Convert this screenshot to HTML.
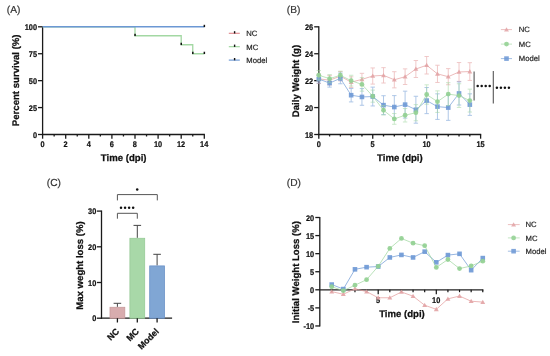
<!DOCTYPE html>
<html><head><meta charset="utf-8"><style>
html,body{margin:0;padding:0;background:#fff;}
body{width:550px;height:356px;overflow:hidden;}
svg{display:block;font-family:"Liberation Sans", sans-serif;will-change:transform;text-rendering:geometricPrecision;}
</style></head><body>
<svg width="550" height="356" viewBox="0 0 550 356">
<rect width="550" height="356" fill="#fff"/>
<text x="6.80" y="13.20" font-size="10.2" font-weight="normal" text-anchor="start" fill="#333" stroke="#333" stroke-width="0.18" >(A)</text>
<text x="286.80" y="13.20" font-size="10.2" font-weight="normal" text-anchor="start" fill="#333" stroke="#333" stroke-width="0.18" >(B)</text>
<text x="46.80" y="185.80" font-size="10.2" font-weight="normal" text-anchor="start" fill="#333" stroke="#333" stroke-width="0.18" >(C)</text>
<text x="286.80" y="185.80" font-size="10.2" font-weight="normal" text-anchor="start" fill="#333" stroke="#333" stroke-width="0.18" >(D)</text>
<line x1="42.60" y1="26.20" x2="42.60" y2="135.10" stroke="#1a1a1a" stroke-width="1.3" />
<line x1="42.00" y1="134.50" x2="204.90" y2="134.50" stroke="#1a1a1a" stroke-width="1.3" />
<line x1="38.00" y1="134.50" x2="42.60" y2="134.50" stroke="#1a1a1a" stroke-width="1.3" />
<text transform="translate(37.00,137.70) scale(0.9,1)" font-size="8.2" font-weight="bold" text-anchor="end" fill="#111" stroke="#111" stroke-width="0.2">0</text>
<line x1="38.00" y1="107.58" x2="42.60" y2="107.58" stroke="#1a1a1a" stroke-width="1.3" />
<text transform="translate(37.00,110.78) scale(0.9,1)" font-size="8.2" font-weight="bold" text-anchor="end" fill="#111" stroke="#111" stroke-width="0.2">25</text>
<line x1="38.00" y1="80.65" x2="42.60" y2="80.65" stroke="#1a1a1a" stroke-width="1.3" />
<text transform="translate(37.00,83.85) scale(0.9,1)" font-size="8.2" font-weight="bold" text-anchor="end" fill="#111" stroke="#111" stroke-width="0.2">50</text>
<line x1="38.00" y1="53.73" x2="42.60" y2="53.73" stroke="#1a1a1a" stroke-width="1.3" />
<text transform="translate(37.00,56.93) scale(0.9,1)" font-size="8.2" font-weight="bold" text-anchor="end" fill="#111" stroke="#111" stroke-width="0.2">75</text>
<line x1="38.00" y1="26.80" x2="42.60" y2="26.80" stroke="#1a1a1a" stroke-width="1.3" />
<text transform="translate(37.00,30.00) scale(0.9,1)" font-size="8.2" font-weight="bold" text-anchor="end" fill="#111" stroke="#111" stroke-width="0.2">100</text>
<line x1="42.60" y1="134.50" x2="42.60" y2="138.70" stroke="#1a1a1a" stroke-width="1.3" />
<text transform="translate(42.50,147.40) scale(0.9,1)" font-size="8.2" font-weight="bold" text-anchor="middle" fill="#111" stroke="#111" stroke-width="0.2">0</text>
<line x1="54.15" y1="134.50" x2="54.15" y2="136.50" stroke="#1a1a1a" stroke-width="1.3" />
<line x1="65.70" y1="134.50" x2="65.70" y2="138.70" stroke="#1a1a1a" stroke-width="1.3" />
<text transform="translate(65.60,147.40) scale(0.9,1)" font-size="8.2" font-weight="bold" text-anchor="middle" fill="#111" stroke="#111" stroke-width="0.2">2</text>
<line x1="77.25" y1="134.50" x2="77.25" y2="136.50" stroke="#1a1a1a" stroke-width="1.3" />
<line x1="88.80" y1="134.50" x2="88.80" y2="138.70" stroke="#1a1a1a" stroke-width="1.3" />
<text transform="translate(88.70,147.40) scale(0.9,1)" font-size="8.2" font-weight="bold" text-anchor="middle" fill="#111" stroke="#111" stroke-width="0.2">4</text>
<line x1="100.35" y1="134.50" x2="100.35" y2="136.50" stroke="#1a1a1a" stroke-width="1.3" />
<line x1="111.90" y1="134.50" x2="111.90" y2="138.70" stroke="#1a1a1a" stroke-width="1.3" />
<text transform="translate(111.80,147.40) scale(0.9,1)" font-size="8.2" font-weight="bold" text-anchor="middle" fill="#111" stroke="#111" stroke-width="0.2">6</text>
<line x1="123.45" y1="134.50" x2="123.45" y2="136.50" stroke="#1a1a1a" stroke-width="1.3" />
<line x1="135.00" y1="134.50" x2="135.00" y2="138.70" stroke="#1a1a1a" stroke-width="1.3" />
<text transform="translate(134.90,147.40) scale(0.9,1)" font-size="8.2" font-weight="bold" text-anchor="middle" fill="#111" stroke="#111" stroke-width="0.2">8</text>
<line x1="146.55" y1="134.50" x2="146.55" y2="136.50" stroke="#1a1a1a" stroke-width="1.3" />
<line x1="158.10" y1="134.50" x2="158.10" y2="138.70" stroke="#1a1a1a" stroke-width="1.3" />
<text transform="translate(158.00,147.40) scale(0.9,1)" font-size="8.2" font-weight="bold" text-anchor="middle" fill="#111" stroke="#111" stroke-width="0.2">10</text>
<line x1="169.65" y1="134.50" x2="169.65" y2="136.50" stroke="#1a1a1a" stroke-width="1.3" />
<line x1="181.20" y1="134.50" x2="181.20" y2="138.70" stroke="#1a1a1a" stroke-width="1.3" />
<text transform="translate(181.10,147.40) scale(0.9,1)" font-size="8.2" font-weight="bold" text-anchor="middle" fill="#111" stroke="#111" stroke-width="0.2">12</text>
<line x1="192.75" y1="134.50" x2="192.75" y2="136.50" stroke="#1a1a1a" stroke-width="1.3" />
<line x1="204.30" y1="134.50" x2="204.30" y2="138.70" stroke="#1a1a1a" stroke-width="1.3" />
<text transform="translate(204.20,147.40) scale(0.9,1)" font-size="8.2" font-weight="bold" text-anchor="middle" fill="#111" stroke="#111" stroke-width="0.2">14</text>
<text x="123.70" y="161.10" font-size="9.6" font-weight="bold" text-anchor="middle" fill="#111" stroke="#111" stroke-width="0.25" >Time (dpi)</text>
<text transform="translate(19.1,80.3) rotate(-90)" font-size="9.6" font-weight="bold" text-anchor="middle" fill="#111" stroke="#111" stroke-width="0.25">Percent survival (%)</text>
<polyline points="42.60,26.80 135.00,26.80 135.00,35.77 181.20,35.77 181.20,44.75 192.75,44.75 192.75,53.73 204.30,53.73" fill="none" stroke="#a3d8a3" stroke-width="1.3"/>
<line x1="42.60" y1="26.80" x2="204.30" y2="26.80" stroke="#6c98d4" stroke-width="1.4" />
<rect x="134.30" y="33.77" width="1.5" height="2.3" fill="#111"/>
<rect x="180.50" y="42.75" width="1.5" height="2.3" fill="#111"/>
<rect x="192.05" y="51.73" width="1.5" height="2.3" fill="#111"/>
<rect x="203.60" y="51.73" width="1.5" height="2.3" fill="#111"/>
<rect x="203.60" y="24.80" width="1.5" height="2.3" fill="#111"/>
<line x1="228.80" y1="33.30" x2="239.80" y2="33.30" stroke="#e08a8e" stroke-width="1.15" />
<rect x="233.90" y="31.20" width="1.4" height="2.3" fill="#111"/>
<text x="246.30" y="36.20" font-size="7.7" font-weight="normal" text-anchor="start" fill="#222" stroke="#222" stroke-width="0.18" >NC</text>
<line x1="228.80" y1="46.70" x2="239.80" y2="46.70" stroke="#9dd69d" stroke-width="1.15" />
<rect x="233.90" y="44.60" width="1.4" height="2.3" fill="#111"/>
<text x="246.30" y="49.60" font-size="7.7" font-weight="normal" text-anchor="start" fill="#222" stroke="#222" stroke-width="0.18" >MC</text>
<line x1="228.80" y1="60.10" x2="239.80" y2="60.10" stroke="#6c98d4" stroke-width="1.15" />
<rect x="233.90" y="58.00" width="1.4" height="2.3" fill="#111"/>
<text x="246.30" y="63.00" font-size="7.7" font-weight="normal" text-anchor="start" fill="#222" stroke="#222" stroke-width="0.18" >Model</text>
<line x1="318.80" y1="26.22" x2="318.80" y2="135.10" stroke="#1a1a1a" stroke-width="1.3" />
<line x1="318.20" y1="134.50" x2="481.21" y2="134.50" stroke="#1a1a1a" stroke-width="1.3" />
<line x1="314.20" y1="134.50" x2="318.80" y2="134.50" stroke="#1a1a1a" stroke-width="1.3" />
<text transform="translate(313.20,137.70) scale(0.9,1)" font-size="8.2" font-weight="bold" text-anchor="end" fill="#111" stroke="#111" stroke-width="0.2">18</text>
<line x1="314.20" y1="107.58" x2="318.80" y2="107.58" stroke="#1a1a1a" stroke-width="1.3" />
<text transform="translate(313.20,110.78) scale(0.9,1)" font-size="8.2" font-weight="bold" text-anchor="end" fill="#111" stroke="#111" stroke-width="0.2">20</text>
<line x1="314.20" y1="80.66" x2="318.80" y2="80.66" stroke="#1a1a1a" stroke-width="1.3" />
<text transform="translate(313.20,83.86) scale(0.9,1)" font-size="8.2" font-weight="bold" text-anchor="end" fill="#111" stroke="#111" stroke-width="0.2">22</text>
<line x1="314.20" y1="53.74" x2="318.80" y2="53.74" stroke="#1a1a1a" stroke-width="1.3" />
<text transform="translate(313.20,56.94) scale(0.9,1)" font-size="8.2" font-weight="bold" text-anchor="end" fill="#111" stroke="#111" stroke-width="0.2">24</text>
<line x1="314.20" y1="26.82" x2="318.80" y2="26.82" stroke="#1a1a1a" stroke-width="1.3" />
<text transform="translate(313.20,30.02) scale(0.9,1)" font-size="8.2" font-weight="bold" text-anchor="end" fill="#111" stroke="#111" stroke-width="0.2">26</text>
<line x1="318.80" y1="134.50" x2="318.80" y2="138.70" stroke="#1a1a1a" stroke-width="1.3" />
<text transform="translate(318.70,147.40) scale(0.9,1)" font-size="8.2" font-weight="bold" text-anchor="middle" fill="#111" stroke="#111" stroke-width="0.2">0</text>
<line x1="329.59" y1="134.50" x2="329.59" y2="136.50" stroke="#1a1a1a" stroke-width="1.3" />
<line x1="340.37" y1="134.50" x2="340.37" y2="136.50" stroke="#1a1a1a" stroke-width="1.3" />
<line x1="351.16" y1="134.50" x2="351.16" y2="136.50" stroke="#1a1a1a" stroke-width="1.3" />
<line x1="361.95" y1="134.50" x2="361.95" y2="136.50" stroke="#1a1a1a" stroke-width="1.3" />
<line x1="372.74" y1="134.50" x2="372.74" y2="138.70" stroke="#1a1a1a" stroke-width="1.3" />
<text transform="translate(372.63,147.40) scale(0.9,1)" font-size="8.2" font-weight="bold" text-anchor="middle" fill="#111" stroke="#111" stroke-width="0.2">5</text>
<line x1="383.52" y1="134.50" x2="383.52" y2="136.50" stroke="#1a1a1a" stroke-width="1.3" />
<line x1="394.31" y1="134.50" x2="394.31" y2="136.50" stroke="#1a1a1a" stroke-width="1.3" />
<line x1="405.10" y1="134.50" x2="405.10" y2="136.50" stroke="#1a1a1a" stroke-width="1.3" />
<line x1="415.88" y1="134.50" x2="415.88" y2="136.50" stroke="#1a1a1a" stroke-width="1.3" />
<line x1="426.67" y1="134.50" x2="426.67" y2="138.70" stroke="#1a1a1a" stroke-width="1.3" />
<text transform="translate(426.57,147.40) scale(0.9,1)" font-size="8.2" font-weight="bold" text-anchor="middle" fill="#111" stroke="#111" stroke-width="0.2">10</text>
<line x1="437.46" y1="134.50" x2="437.46" y2="136.50" stroke="#1a1a1a" stroke-width="1.3" />
<line x1="448.24" y1="134.50" x2="448.24" y2="136.50" stroke="#1a1a1a" stroke-width="1.3" />
<line x1="459.03" y1="134.50" x2="459.03" y2="136.50" stroke="#1a1a1a" stroke-width="1.3" />
<line x1="469.82" y1="134.50" x2="469.82" y2="136.50" stroke="#1a1a1a" stroke-width="1.3" />
<line x1="480.61" y1="134.50" x2="480.61" y2="138.70" stroke="#1a1a1a" stroke-width="1.3" />
<text transform="translate(480.50,147.40) scale(0.9,1)" font-size="8.2" font-weight="bold" text-anchor="middle" fill="#111" stroke="#111" stroke-width="0.2">15</text>
<text x="399.90" y="161.20" font-size="9.6" font-weight="bold" text-anchor="middle" fill="#111" stroke="#111" stroke-width="0.25" >Time (dpi)</text>
<text transform="translate(299.2,81.0) rotate(-90)" font-size="9.6" font-weight="bold" text-anchor="middle" fill="#111" stroke="#111" stroke-width="0.25">Daily Weight (g)</text>
<g opacity="0.6">
<line x1="318.80" y1="74.13" x2="318.80" y2="83.55" stroke="#e39a9a" stroke-width="0.9" />
<line x1="316.60" y1="74.13" x2="321.00" y2="74.13" stroke="#e39a9a" stroke-width="0.9" />
<line x1="316.60" y1="83.55" x2="321.00" y2="83.55" stroke="#e39a9a" stroke-width="0.9" />
<line x1="329.59" y1="75.47" x2="329.59" y2="84.90" stroke="#e39a9a" stroke-width="0.9" />
<line x1="327.39" y1="75.47" x2="331.79" y2="75.47" stroke="#e39a9a" stroke-width="0.9" />
<line x1="327.39" y1="84.90" x2="331.79" y2="84.90" stroke="#e39a9a" stroke-width="0.9" />
<line x1="340.37" y1="71.44" x2="340.37" y2="80.86" stroke="#e39a9a" stroke-width="0.9" />
<line x1="338.17" y1="71.44" x2="342.57" y2="71.44" stroke="#e39a9a" stroke-width="0.9" />
<line x1="338.17" y1="80.86" x2="342.57" y2="80.86" stroke="#e39a9a" stroke-width="0.9" />
<line x1="351.16" y1="76.82" x2="351.16" y2="87.59" stroke="#e39a9a" stroke-width="0.9" />
<line x1="348.96" y1="76.82" x2="353.36" y2="76.82" stroke="#e39a9a" stroke-width="0.9" />
<line x1="348.96" y1="87.59" x2="353.36" y2="87.59" stroke="#e39a9a" stroke-width="0.9" />
<line x1="361.95" y1="73.32" x2="361.95" y2="85.43" stroke="#e39a9a" stroke-width="0.9" />
<line x1="359.75" y1="73.32" x2="364.15" y2="73.32" stroke="#e39a9a" stroke-width="0.9" />
<line x1="359.75" y1="85.43" x2="364.15" y2="85.43" stroke="#e39a9a" stroke-width="0.9" />
<line x1="372.74" y1="67.94" x2="372.74" y2="84.09" stroke="#e39a9a" stroke-width="0.9" />
<line x1="370.54" y1="67.94" x2="374.94" y2="67.94" stroke="#e39a9a" stroke-width="0.9" />
<line x1="370.54" y1="84.09" x2="374.94" y2="84.09" stroke="#e39a9a" stroke-width="0.9" />
<line x1="383.52" y1="67.67" x2="383.52" y2="83.01" stroke="#e39a9a" stroke-width="0.9" />
<line x1="381.32" y1="67.67" x2="385.72" y2="67.67" stroke="#e39a9a" stroke-width="0.9" />
<line x1="381.32" y1="83.01" x2="385.72" y2="83.01" stroke="#e39a9a" stroke-width="0.9" />
<line x1="394.31" y1="71.71" x2="394.31" y2="87.86" stroke="#e39a9a" stroke-width="0.9" />
<line x1="392.11" y1="71.71" x2="396.51" y2="71.71" stroke="#e39a9a" stroke-width="0.9" />
<line x1="392.11" y1="87.86" x2="396.51" y2="87.86" stroke="#e39a9a" stroke-width="0.9" />
<line x1="405.10" y1="68.88" x2="405.10" y2="84.49" stroke="#e39a9a" stroke-width="0.9" />
<line x1="402.90" y1="68.88" x2="407.30" y2="68.88" stroke="#e39a9a" stroke-width="0.9" />
<line x1="402.90" y1="84.49" x2="407.30" y2="84.49" stroke="#e39a9a" stroke-width="0.9" />
<line x1="415.88" y1="60.53" x2="415.88" y2="77.49" stroke="#e39a9a" stroke-width="0.9" />
<line x1="413.68" y1="60.53" x2="418.08" y2="60.53" stroke="#e39a9a" stroke-width="0.9" />
<line x1="413.68" y1="77.49" x2="418.08" y2="77.49" stroke="#e39a9a" stroke-width="0.9" />
<line x1="426.67" y1="56.50" x2="426.67" y2="73.99" stroke="#e39a9a" stroke-width="0.9" />
<line x1="424.47" y1="56.50" x2="428.87" y2="56.50" stroke="#e39a9a" stroke-width="0.9" />
<line x1="424.47" y1="73.99" x2="428.87" y2="73.99" stroke="#e39a9a" stroke-width="0.9" />
<line x1="437.46" y1="65.24" x2="437.46" y2="82.47" stroke="#e39a9a" stroke-width="0.9" />
<line x1="435.26" y1="65.24" x2="439.66" y2="65.24" stroke="#e39a9a" stroke-width="0.9" />
<line x1="435.26" y1="82.47" x2="439.66" y2="82.47" stroke="#e39a9a" stroke-width="0.9" />
<line x1="448.24" y1="68.61" x2="448.24" y2="84.76" stroke="#e39a9a" stroke-width="0.9" />
<line x1="446.04" y1="68.61" x2="450.44" y2="68.61" stroke="#e39a9a" stroke-width="0.9" />
<line x1="446.04" y1="84.76" x2="450.44" y2="84.76" stroke="#e39a9a" stroke-width="0.9" />
<line x1="459.03" y1="62.55" x2="459.03" y2="81.40" stroke="#e39a9a" stroke-width="0.9" />
<line x1="456.83" y1="62.55" x2="461.23" y2="62.55" stroke="#e39a9a" stroke-width="0.9" />
<line x1="456.83" y1="81.40" x2="461.23" y2="81.40" stroke="#e39a9a" stroke-width="0.9" />
<line x1="469.82" y1="62.69" x2="469.82" y2="80.45" stroke="#e39a9a" stroke-width="0.9" />
<line x1="467.62" y1="62.69" x2="472.02" y2="62.69" stroke="#e39a9a" stroke-width="0.9" />
<line x1="467.62" y1="80.45" x2="472.02" y2="80.45" stroke="#e39a9a" stroke-width="0.9" />
</g>
<polyline points="318.80,78.84 329.59,80.19 340.37,76.15 351.16,82.20 361.95,79.38 372.74,76.01 383.52,75.34 394.31,79.78 405.10,76.69 415.88,69.01 426.67,65.24 437.46,73.86 448.24,76.69 459.03,71.97 469.82,71.57" fill="none" stroke="#e39a9a" stroke-width="0.9" opacity="0.75"/>
<g opacity="0.9">
<polygon points="318.80,76.39 316.35,80.68 321.25,80.68" fill="#e3a5a7"/>
<polygon points="329.59,77.74 327.14,82.02 332.04,82.02" fill="#e3a5a7"/>
<polygon points="340.37,73.70 337.92,77.98 342.82,77.98" fill="#e3a5a7"/>
<polygon points="351.16,79.75 348.71,84.04 353.61,84.04" fill="#e3a5a7"/>
<polygon points="361.95,76.93 359.50,81.22 364.40,81.22" fill="#e3a5a7"/>
<polygon points="372.74,73.56 370.29,77.85 375.19,77.85" fill="#e3a5a7"/>
<polygon points="383.52,72.89 381.07,77.18 385.97,77.18" fill="#e3a5a7"/>
<polygon points="394.31,77.33 391.86,81.62 396.76,81.62" fill="#e3a5a7"/>
<polygon points="405.10,74.24 402.65,78.52 407.55,78.52" fill="#e3a5a7"/>
<polygon points="415.88,66.56 413.43,70.85 418.33,70.85" fill="#e3a5a7"/>
<polygon points="426.67,62.79 424.22,67.08 429.12,67.08" fill="#e3a5a7"/>
<polygon points="437.46,71.41 435.01,75.70 439.91,75.70" fill="#e3a5a7"/>
<polygon points="448.24,74.24 445.79,78.52 450.69,78.52" fill="#e3a5a7"/>
<polygon points="459.03,69.52 456.58,73.81 461.48,73.81" fill="#e3a5a7"/>
<polygon points="469.82,69.12 467.37,73.41 472.27,73.41" fill="#e3a5a7"/>
</g>
<g opacity="0.6">
<line x1="318.80" y1="75.00" x2="318.80" y2="83.08" stroke="#6c98d4" stroke-width="0.9" />
<line x1="316.60" y1="75.00" x2="321.00" y2="75.00" stroke="#6c98d4" stroke-width="0.9" />
<line x1="316.60" y1="83.08" x2="321.00" y2="83.08" stroke="#6c98d4" stroke-width="0.9" />
<line x1="329.59" y1="79.04" x2="329.59" y2="87.12" stroke="#6c98d4" stroke-width="0.9" />
<line x1="327.39" y1="79.04" x2="331.79" y2="79.04" stroke="#6c98d4" stroke-width="0.9" />
<line x1="327.39" y1="87.12" x2="331.79" y2="87.12" stroke="#6c98d4" stroke-width="0.9" />
<line x1="340.37" y1="72.98" x2="340.37" y2="83.75" stroke="#6c98d4" stroke-width="0.9" />
<line x1="338.17" y1="72.98" x2="342.57" y2="72.98" stroke="#6c98d4" stroke-width="0.9" />
<line x1="338.17" y1="83.75" x2="342.57" y2="83.75" stroke="#6c98d4" stroke-width="0.9" />
<line x1="351.16" y1="88.46" x2="351.16" y2="101.92" stroke="#6c98d4" stroke-width="0.9" />
<line x1="348.96" y1="88.46" x2="353.36" y2="88.46" stroke="#6c98d4" stroke-width="0.9" />
<line x1="348.96" y1="101.92" x2="353.36" y2="101.92" stroke="#6c98d4" stroke-width="0.9" />
<line x1="361.95" y1="88.60" x2="361.95" y2="105.29" stroke="#6c98d4" stroke-width="0.9" />
<line x1="359.75" y1="88.60" x2="364.15" y2="88.60" stroke="#6c98d4" stroke-width="0.9" />
<line x1="359.75" y1="105.29" x2="364.15" y2="105.29" stroke="#6c98d4" stroke-width="0.9" />
<line x1="372.74" y1="87.12" x2="372.74" y2="105.96" stroke="#6c98d4" stroke-width="0.9" />
<line x1="370.54" y1="87.12" x2="374.94" y2="87.12" stroke="#6c98d4" stroke-width="0.9" />
<line x1="370.54" y1="105.96" x2="374.94" y2="105.96" stroke="#6c98d4" stroke-width="0.9" />
<line x1="383.52" y1="95.73" x2="383.52" y2="114.58" stroke="#6c98d4" stroke-width="0.9" />
<line x1="381.32" y1="95.73" x2="385.72" y2="95.73" stroke="#6c98d4" stroke-width="0.9" />
<line x1="381.32" y1="114.58" x2="385.72" y2="114.58" stroke="#6c98d4" stroke-width="0.9" />
<line x1="394.31" y1="95.60" x2="394.31" y2="118.48" stroke="#6c98d4" stroke-width="0.9" />
<line x1="392.11" y1="95.60" x2="396.51" y2="95.60" stroke="#6c98d4" stroke-width="0.9" />
<line x1="392.11" y1="118.48" x2="396.51" y2="118.48" stroke="#6c98d4" stroke-width="0.9" />
<line x1="405.10" y1="91.16" x2="405.10" y2="118.08" stroke="#6c98d4" stroke-width="0.9" />
<line x1="402.90" y1="91.16" x2="407.30" y2="91.16" stroke="#6c98d4" stroke-width="0.9" />
<line x1="402.90" y1="118.08" x2="407.30" y2="118.08" stroke="#6c98d4" stroke-width="0.9" />
<line x1="415.88" y1="96.27" x2="415.88" y2="123.19" stroke="#6c98d4" stroke-width="0.9" />
<line x1="413.68" y1="96.27" x2="418.08" y2="96.27" stroke="#6c98d4" stroke-width="0.9" />
<line x1="413.68" y1="123.19" x2="418.08" y2="123.19" stroke="#6c98d4" stroke-width="0.9" />
<line x1="426.67" y1="87.52" x2="426.67" y2="113.63" stroke="#6c98d4" stroke-width="0.9" />
<line x1="424.47" y1="87.52" x2="428.87" y2="87.52" stroke="#6c98d4" stroke-width="0.9" />
<line x1="424.47" y1="113.63" x2="428.87" y2="113.63" stroke="#6c98d4" stroke-width="0.9" />
<line x1="437.46" y1="93.85" x2="437.46" y2="119.42" stroke="#6c98d4" stroke-width="0.9" />
<line x1="435.26" y1="93.85" x2="439.66" y2="93.85" stroke="#6c98d4" stroke-width="0.9" />
<line x1="435.26" y1="119.42" x2="439.66" y2="119.42" stroke="#6c98d4" stroke-width="0.9" />
<line x1="448.24" y1="94.79" x2="448.24" y2="120.36" stroke="#6c98d4" stroke-width="0.9" />
<line x1="446.04" y1="94.79" x2="450.44" y2="94.79" stroke="#6c98d4" stroke-width="0.9" />
<line x1="446.04" y1="120.36" x2="450.44" y2="120.36" stroke="#6c98d4" stroke-width="0.9" />
<line x1="459.03" y1="81.87" x2="459.03" y2="105.02" stroke="#6c98d4" stroke-width="0.9" />
<line x1="456.83" y1="81.87" x2="461.23" y2="81.87" stroke="#6c98d4" stroke-width="0.9" />
<line x1="456.83" y1="105.02" x2="461.23" y2="105.02" stroke="#6c98d4" stroke-width="0.9" />
<line x1="469.82" y1="93.85" x2="469.82" y2="115.38" stroke="#6c98d4" stroke-width="0.9" />
<line x1="467.62" y1="93.85" x2="472.02" y2="93.85" stroke="#6c98d4" stroke-width="0.9" />
<line x1="467.62" y1="115.38" x2="472.02" y2="115.38" stroke="#6c98d4" stroke-width="0.9" />
</g>
<polyline points="318.80,79.04 329.59,83.08 340.37,78.37 351.16,95.19 361.95,96.94 372.74,96.54 383.52,105.15 394.31,107.04 405.10,104.62 415.88,109.73 426.67,100.58 437.46,106.63 448.24,107.58 459.03,93.44 469.82,104.62" fill="none" stroke="#6c98d4" stroke-width="0.9" opacity="0.75"/>
<g opacity="0.9">
<rect x="316.50" y="76.74" width="4.6" height="4.6" fill="#6f9ad6"/>
<rect x="327.29" y="80.78" width="4.6" height="4.6" fill="#6f9ad6"/>
<rect x="338.07" y="76.07" width="4.6" height="4.6" fill="#6f9ad6"/>
<rect x="348.86" y="92.89" width="4.6" height="4.6" fill="#6f9ad6"/>
<rect x="359.65" y="94.64" width="4.6" height="4.6" fill="#6f9ad6"/>
<rect x="370.44" y="94.24" width="4.6" height="4.6" fill="#6f9ad6"/>
<rect x="381.22" y="102.85" width="4.6" height="4.6" fill="#6f9ad6"/>
<rect x="392.01" y="104.74" width="4.6" height="4.6" fill="#6f9ad6"/>
<rect x="402.80" y="102.32" width="4.6" height="4.6" fill="#6f9ad6"/>
<rect x="413.58" y="107.43" width="4.6" height="4.6" fill="#6f9ad6"/>
<rect x="424.37" y="98.28" width="4.6" height="4.6" fill="#6f9ad6"/>
<rect x="435.16" y="104.33" width="4.6" height="4.6" fill="#6f9ad6"/>
<rect x="445.94" y="105.28" width="4.6" height="4.6" fill="#6f9ad6"/>
<rect x="456.73" y="91.14" width="4.6" height="4.6" fill="#6f9ad6"/>
<rect x="467.52" y="102.32" width="4.6" height="4.6" fill="#6f9ad6"/>
</g>
<g opacity="0.6">
<line x1="318.80" y1="70.56" x2="318.80" y2="79.98" stroke="#9fd69f" stroke-width="0.9" />
<line x1="316.60" y1="70.56" x2="321.00" y2="70.56" stroke="#9fd69f" stroke-width="0.9" />
<line x1="316.60" y1="79.98" x2="321.00" y2="79.98" stroke="#9fd69f" stroke-width="0.9" />
<line x1="329.59" y1="74.60" x2="329.59" y2="82.68" stroke="#9fd69f" stroke-width="0.9" />
<line x1="327.39" y1="74.60" x2="331.79" y2="74.60" stroke="#9fd69f" stroke-width="0.9" />
<line x1="327.39" y1="82.68" x2="331.79" y2="82.68" stroke="#9fd69f" stroke-width="0.9" />
<line x1="340.37" y1="71.23" x2="340.37" y2="79.31" stroke="#9fd69f" stroke-width="0.9" />
<line x1="338.17" y1="71.23" x2="342.57" y2="71.23" stroke="#9fd69f" stroke-width="0.9" />
<line x1="338.17" y1="79.31" x2="342.57" y2="79.31" stroke="#9fd69f" stroke-width="0.9" />
<line x1="351.16" y1="75.27" x2="351.16" y2="86.04" stroke="#9fd69f" stroke-width="0.9" />
<line x1="348.96" y1="75.27" x2="353.36" y2="75.27" stroke="#9fd69f" stroke-width="0.9" />
<line x1="348.96" y1="86.04" x2="353.36" y2="86.04" stroke="#9fd69f" stroke-width="0.9" />
<line x1="361.95" y1="77.69" x2="361.95" y2="91.16" stroke="#9fd69f" stroke-width="0.9" />
<line x1="359.75" y1="77.69" x2="364.15" y2="77.69" stroke="#9fd69f" stroke-width="0.9" />
<line x1="359.75" y1="91.16" x2="364.15" y2="91.16" stroke="#9fd69f" stroke-width="0.9" />
<line x1="372.74" y1="90.08" x2="372.74" y2="102.19" stroke="#9fd69f" stroke-width="0.9" />
<line x1="370.54" y1="90.08" x2="374.94" y2="90.08" stroke="#9fd69f" stroke-width="0.9" />
<line x1="370.54" y1="102.19" x2="374.94" y2="102.19" stroke="#9fd69f" stroke-width="0.9" />
<line x1="383.52" y1="105.56" x2="383.52" y2="114.98" stroke="#9fd69f" stroke-width="0.9" />
<line x1="381.32" y1="105.56" x2="385.72" y2="105.56" stroke="#9fd69f" stroke-width="0.9" />
<line x1="381.32" y1="114.98" x2="385.72" y2="114.98" stroke="#9fd69f" stroke-width="0.9" />
<line x1="394.31" y1="113.50" x2="394.31" y2="124.27" stroke="#9fd69f" stroke-width="0.9" />
<line x1="392.11" y1="113.50" x2="396.51" y2="113.50" stroke="#9fd69f" stroke-width="0.9" />
<line x1="392.11" y1="124.27" x2="396.51" y2="124.27" stroke="#9fd69f" stroke-width="0.9" />
<line x1="405.10" y1="108.52" x2="405.10" y2="121.98" stroke="#9fd69f" stroke-width="0.9" />
<line x1="402.90" y1="108.52" x2="407.30" y2="108.52" stroke="#9fd69f" stroke-width="0.9" />
<line x1="402.90" y1="121.98" x2="407.30" y2="121.98" stroke="#9fd69f" stroke-width="0.9" />
<line x1="415.88" y1="104.61" x2="415.88" y2="120.77" stroke="#9fd69f" stroke-width="0.9" />
<line x1="413.68" y1="104.61" x2="418.08" y2="104.61" stroke="#9fd69f" stroke-width="0.9" />
<line x1="413.68" y1="120.77" x2="418.08" y2="120.77" stroke="#9fd69f" stroke-width="0.9" />
<line x1="426.67" y1="84.83" x2="426.67" y2="104.21" stroke="#9fd69f" stroke-width="0.9" />
<line x1="424.47" y1="84.83" x2="428.87" y2="84.83" stroke="#9fd69f" stroke-width="0.9" />
<line x1="424.47" y1="104.21" x2="428.87" y2="104.21" stroke="#9fd69f" stroke-width="0.9" />
<line x1="437.46" y1="90.89" x2="437.46" y2="112.42" stroke="#9fd69f" stroke-width="0.9" />
<line x1="435.26" y1="90.89" x2="439.66" y2="90.89" stroke="#9fd69f" stroke-width="0.9" />
<line x1="435.26" y1="112.42" x2="439.66" y2="112.42" stroke="#9fd69f" stroke-width="0.9" />
<line x1="448.24" y1="82.68" x2="448.24" y2="105.56" stroke="#9fd69f" stroke-width="0.9" />
<line x1="446.04" y1="82.68" x2="450.44" y2="82.68" stroke="#9fd69f" stroke-width="0.9" />
<line x1="446.04" y1="105.56" x2="450.44" y2="105.56" stroke="#9fd69f" stroke-width="0.9" />
<line x1="459.03" y1="83.75" x2="459.03" y2="107.44" stroke="#9fd69f" stroke-width="0.9" />
<line x1="456.83" y1="83.75" x2="461.23" y2="83.75" stroke="#9fd69f" stroke-width="0.9" />
<line x1="456.83" y1="107.44" x2="461.23" y2="107.44" stroke="#9fd69f" stroke-width="0.9" />
<line x1="469.82" y1="89.14" x2="469.82" y2="112.02" stroke="#9fd69f" stroke-width="0.9" />
<line x1="467.62" y1="89.14" x2="472.02" y2="89.14" stroke="#9fd69f" stroke-width="0.9" />
<line x1="467.62" y1="112.02" x2="472.02" y2="112.02" stroke="#9fd69f" stroke-width="0.9" />
</g>
<polyline points="318.80,75.27 329.59,78.64 340.37,75.27 351.16,80.66 361.95,84.43 372.74,96.14 383.52,110.27 394.31,118.88 405.10,115.25 415.88,112.69 426.67,94.52 437.46,101.65 448.24,94.12 459.03,95.60 469.82,100.58" fill="none" stroke="#9fd69f" stroke-width="0.9" opacity="0.75"/>
<g opacity="0.9">
<circle cx="318.80" cy="75.27" r="2.4" fill="#93d193"/>
<circle cx="329.59" cy="78.64" r="2.4" fill="#93d193"/>
<circle cx="340.37" cy="75.27" r="2.4" fill="#93d193"/>
<circle cx="351.16" cy="80.66" r="2.4" fill="#93d193"/>
<circle cx="361.95" cy="84.43" r="2.4" fill="#93d193"/>
<circle cx="372.74" cy="96.14" r="2.4" fill="#93d193"/>
<circle cx="383.52" cy="110.27" r="2.4" fill="#93d193"/>
<circle cx="394.31" cy="118.88" r="2.4" fill="#93d193"/>
<circle cx="405.10" cy="115.25" r="2.4" fill="#93d193"/>
<circle cx="415.88" cy="112.69" r="2.4" fill="#93d193"/>
<circle cx="426.67" cy="94.52" r="2.4" fill="#93d193"/>
<circle cx="437.46" cy="101.65" r="2.4" fill="#93d193"/>
<circle cx="448.24" cy="94.12" r="2.4" fill="#93d193"/>
<circle cx="459.03" cy="95.60" r="2.4" fill="#93d193"/>
<circle cx="469.82" cy="100.58" r="2.4" fill="#93d193"/>
</g>
<line x1="474.10" y1="71.60" x2="474.10" y2="100.60" stroke="#555" stroke-width="1.1" />
<line x1="493.30" y1="71.10" x2="493.30" y2="103.60" stroke="#555" stroke-width="1.1" />
<circle cx="477.70" cy="86.10" r="1.25" fill="#111"/>
<circle cx="481.70" cy="86.10" r="1.25" fill="#111"/>
<circle cx="485.70" cy="86.10" r="1.25" fill="#111"/>
<circle cx="489.70" cy="86.10" r="1.25" fill="#111"/>
<circle cx="496.90" cy="87.80" r="1.25" fill="#111"/>
<circle cx="500.90" cy="87.80" r="1.25" fill="#111"/>
<circle cx="504.90" cy="87.80" r="1.25" fill="#111"/>
<circle cx="508.90" cy="87.80" r="1.25" fill="#111"/>
<line x1="500.90" y1="29.60" x2="512.00" y2="29.60" stroke="#e39a9a" stroke-width="0.9" opacity="0.7"/>
<g opacity="0.88">
<polygon points="506.50,27.15 504.05,31.44 508.95,31.44" fill="#e3a5a7"/>
</g>
<text x="518.80" y="32.30" font-size="7.7" font-weight="normal" text-anchor="start" fill="#222" stroke="#222" stroke-width="0.18" >NC</text>
<line x1="500.90" y1="44.10" x2="512.00" y2="44.10" stroke="#9fd69f" stroke-width="0.9" opacity="0.7"/>
<g opacity="0.88">
<circle cx="506.50" cy="44.10" r="2.4" fill="#93d193"/>
</g>
<text x="518.80" y="46.80" font-size="7.7" font-weight="normal" text-anchor="start" fill="#222" stroke="#222" stroke-width="0.18" >MC</text>
<line x1="500.90" y1="58.60" x2="512.00" y2="58.60" stroke="#6c98d4" stroke-width="0.9" opacity="0.7"/>
<g opacity="0.88">
<rect x="504.20" y="56.30" width="4.6" height="4.6" fill="#6f9ad6"/>
</g>
<text x="518.80" y="61.30" font-size="7.7" font-weight="normal" text-anchor="start" fill="#222" stroke="#222" stroke-width="0.18" >Model</text>
<line x1="101.50" y1="210.50" x2="101.50" y2="318.80" stroke="#1a1a1a" stroke-width="1.3" />
<line x1="100.90" y1="318.20" x2="172.10" y2="318.20" stroke="#1a1a1a" stroke-width="1.3" />
<line x1="96.90" y1="318.20" x2="101.50" y2="318.20" stroke="#1a1a1a" stroke-width="1.3" />
<text transform="translate(96.30,321.40) scale(0.9,1)" font-size="8.2" font-weight="bold" text-anchor="end" fill="#111" stroke="#111" stroke-width="0.2">0</text>
<line x1="96.90" y1="282.50" x2="101.50" y2="282.50" stroke="#1a1a1a" stroke-width="1.3" />
<text transform="translate(96.30,285.70) scale(0.9,1)" font-size="8.2" font-weight="bold" text-anchor="end" fill="#111" stroke="#111" stroke-width="0.2">10</text>
<line x1="96.90" y1="246.80" x2="101.50" y2="246.80" stroke="#1a1a1a" stroke-width="1.3" />
<text transform="translate(96.30,250.00) scale(0.9,1)" font-size="8.2" font-weight="bold" text-anchor="end" fill="#111" stroke="#111" stroke-width="0.2">20</text>
<line x1="96.90" y1="211.10" x2="101.50" y2="211.10" stroke="#1a1a1a" stroke-width="1.3" />
<text transform="translate(96.30,214.30) scale(0.9,1)" font-size="8.2" font-weight="bold" text-anchor="end" fill="#111" stroke="#111" stroke-width="0.2">30</text>
<line x1="117.40" y1="306.88" x2="117.40" y2="303.31" stroke="#444" stroke-width="1.0" />
<line x1="113.60" y1="303.31" x2="121.20" y2="303.31" stroke="#444" stroke-width="1.0" />
<rect x="110.00" y="307.28" width="14.8" height="10.92" fill="#d8acae" stroke="#c79a9c" stroke-width="0.8"/>
<line x1="117.40" y1="318.20" x2="117.40" y2="322.50" stroke="#1a1a1a" stroke-width="1.3" />
<line x1="137.30" y1="237.88" x2="137.30" y2="225.38" stroke="#444" stroke-width="1.0" />
<line x1="133.50" y1="225.38" x2="141.10" y2="225.38" stroke="#444" stroke-width="1.0" />
<rect x="129.90" y="238.28" width="14.8" height="79.92" fill="#a8d8a8" stroke="#96ca96" stroke-width="0.8"/>
<line x1="137.30" y1="318.20" x2="137.30" y2="322.50" stroke="#1a1a1a" stroke-width="1.3" />
<line x1="157.10" y1="265.51" x2="157.10" y2="254.30" stroke="#444" stroke-width="1.0" />
<line x1="153.30" y1="254.30" x2="160.90" y2="254.30" stroke="#444" stroke-width="1.0" />
<rect x="149.70" y="265.91" width="14.8" height="52.29" fill="#80a6d4" stroke="#6b93c8" stroke-width="0.8"/>
<line x1="157.10" y1="318.20" x2="157.10" y2="322.50" stroke="#1a1a1a" stroke-width="1.3" />
<text transform="translate(119.70,332.00) rotate(-45)" font-size="8.8" stroke="#111" stroke-width="0.25" font-weight="bold" text-anchor="end" fill="#111">NC</text>
<text transform="translate(139.60,332.00) rotate(-45)" font-size="8.8" stroke="#111" stroke-width="0.25" font-weight="bold" text-anchor="end" fill="#111">MC</text>
<text transform="translate(159.40,332.00) rotate(-45)" font-size="8.8" stroke="#111" stroke-width="0.25" font-weight="bold" text-anchor="end" fill="#111">Model</text>
<text transform="translate(83.0,265.5) rotate(-90)" font-size="9.6" font-weight="bold" text-anchor="middle" fill="#111" stroke="#111" stroke-width="0.25">Max weght loss (%)</text>
<polyline points="117.4,200.4 117.4,194.6 157.3,194.6 157.3,200.4" fill="none" stroke="#555" stroke-width="1.0"/>
<polyline points="117.4,218.7 117.4,213.3 137.3,213.3 137.3,218.7" fill="none" stroke="#555" stroke-width="1.0"/>
<circle cx="137.20" cy="189.40" r="1.25" fill="#111"/>
<circle cx="121.00" cy="207.80" r="1.25" fill="#111"/>
<circle cx="125.05" cy="207.80" r="1.25" fill="#111"/>
<circle cx="129.10" cy="207.80" r="1.25" fill="#111"/>
<circle cx="133.15" cy="207.80" r="1.25" fill="#111"/>
<line x1="319.80" y1="216.90" x2="319.80" y2="326.55" stroke="#1a1a1a" stroke-width="1.3" />
<line x1="315.30" y1="217.50" x2="319.80" y2="217.50" stroke="#1a1a1a" stroke-width="1.3" />
<text transform="translate(314.20,220.70) scale(0.9,1)" font-size="8.2" font-weight="bold" text-anchor="end" fill="#111" stroke="#111" stroke-width="0.2">20</text>
<line x1="315.30" y1="235.58" x2="319.80" y2="235.58" stroke="#1a1a1a" stroke-width="1.3" />
<text transform="translate(314.20,238.78) scale(0.9,1)" font-size="8.2" font-weight="bold" text-anchor="end" fill="#111" stroke="#111" stroke-width="0.2">15</text>
<line x1="315.30" y1="253.65" x2="319.80" y2="253.65" stroke="#1a1a1a" stroke-width="1.3" />
<text transform="translate(314.20,256.85) scale(0.9,1)" font-size="8.2" font-weight="bold" text-anchor="end" fill="#111" stroke="#111" stroke-width="0.2">10</text>
<line x1="315.30" y1="271.73" x2="319.80" y2="271.73" stroke="#1a1a1a" stroke-width="1.3" />
<text transform="translate(314.20,274.93) scale(0.9,1)" font-size="8.2" font-weight="bold" text-anchor="end" fill="#111" stroke="#111" stroke-width="0.2">5</text>
<line x1="315.30" y1="289.80" x2="319.80" y2="289.80" stroke="#1a1a1a" stroke-width="1.3" />
<text transform="translate(314.20,293.00) scale(0.9,1)" font-size="8.2" font-weight="bold" text-anchor="end" fill="#111" stroke="#111" stroke-width="0.2">0</text>
<line x1="315.30" y1="307.88" x2="319.80" y2="307.88" stroke="#1a1a1a" stroke-width="1.3" />
<text transform="translate(314.20,311.07) scale(0.9,1)" font-size="8.2" font-weight="bold" text-anchor="end" fill="#111" stroke="#111" stroke-width="0.2">-5</text>
<line x1="315.30" y1="325.95" x2="319.80" y2="325.95" stroke="#1a1a1a" stroke-width="1.3" />
<text transform="translate(314.20,329.15) scale(0.9,1)" font-size="8.2" font-weight="bold" text-anchor="end" fill="#111" stroke="#111" stroke-width="0.2">-10</text>
<line x1="319.50" y1="289.80" x2="483.38" y2="289.80" stroke="#222" stroke-width="1.3" />
<line x1="331.72" y1="289.80" x2="331.72" y2="292.20" stroke="#111" stroke-width="1.2" />
<line x1="343.34" y1="289.80" x2="343.34" y2="292.20" stroke="#111" stroke-width="1.2" />
<line x1="354.96" y1="289.80" x2="354.96" y2="292.20" stroke="#111" stroke-width="1.2" />
<line x1="366.58" y1="289.80" x2="366.58" y2="292.20" stroke="#111" stroke-width="1.2" />
<line x1="378.20" y1="289.80" x2="378.20" y2="294.20" stroke="#111" stroke-width="1.2" />
<line x1="389.82" y1="289.80" x2="389.82" y2="292.20" stroke="#111" stroke-width="1.2" />
<line x1="401.44" y1="289.80" x2="401.44" y2="292.20" stroke="#111" stroke-width="1.2" />
<line x1="413.06" y1="289.80" x2="413.06" y2="292.20" stroke="#111" stroke-width="1.2" />
<line x1="424.68" y1="289.80" x2="424.68" y2="292.20" stroke="#111" stroke-width="1.2" />
<line x1="436.30" y1="289.80" x2="436.30" y2="294.20" stroke="#111" stroke-width="1.2" />
<line x1="447.92" y1="289.80" x2="447.92" y2="292.20" stroke="#111" stroke-width="1.2" />
<line x1="459.54" y1="289.80" x2="459.54" y2="292.20" stroke="#111" stroke-width="1.2" />
<line x1="471.16" y1="289.80" x2="471.16" y2="292.20" stroke="#111" stroke-width="1.2" />
<line x1="482.78" y1="289.80" x2="482.78" y2="292.20" stroke="#111" stroke-width="1.2" />
<text transform="translate(378.10,302.60) scale(0.9,1)" font-size="8.2" font-weight="bold" text-anchor="middle" fill="#111" stroke="#111" stroke-width="0.2">5</text>
<text transform="translate(436.20,302.80) scale(0.9,1)" font-size="8.2" font-weight="bold" text-anchor="middle" fill="#111" stroke="#111" stroke-width="0.2">10</text>
<polyline points="331.72,291.61 343.34,294.28 354.96,288.72 366.58,291.61 378.20,297.75 389.82,297.75 401.44,291.97 413.06,296.20 424.68,305.24 436.30,309.32 447.92,298.84 459.54,296.05 471.16,301.22 482.78,302.09" fill="none" stroke="#e39a9a" stroke-width="0.9" opacity="0.8"/>
<g opacity="0.92">
<polygon points="331.72,289.16 329.27,293.44 334.17,293.44" fill="#e3a5a7"/>
<polygon points="343.34,291.83 340.89,296.12 345.79,296.12" fill="#e3a5a7"/>
<polygon points="354.96,286.27 352.51,290.55 357.41,290.55" fill="#e3a5a7"/>
<polygon points="366.58,289.16 364.13,293.44 369.03,293.44" fill="#e3a5a7"/>
<polygon points="378.20,295.30 375.75,299.59 380.65,299.59" fill="#e3a5a7"/>
<polygon points="389.82,295.30 387.37,299.59 392.27,299.59" fill="#e3a5a7"/>
<polygon points="401.44,289.52 398.99,293.81 403.89,293.81" fill="#e3a5a7"/>
<polygon points="413.06,293.75 410.61,298.04 415.51,298.04" fill="#e3a5a7"/>
<polygon points="424.68,302.79 422.23,307.07 427.13,307.07" fill="#e3a5a7"/>
<polygon points="436.30,306.87 433.85,311.16 438.75,311.16" fill="#e3a5a7"/>
<polygon points="447.92,296.39 445.47,300.68 450.37,300.68" fill="#e3a5a7"/>
<polygon points="459.54,293.60 457.09,297.89 461.99,297.89" fill="#e3a5a7"/>
<polygon points="471.16,298.77 468.71,303.06 473.61,303.06" fill="#e3a5a7"/>
<polygon points="482.78,299.64 480.33,303.93 485.23,303.93" fill="#e3a5a7"/>
</g>
<polyline points="331.72,284.56 343.34,289.08 354.96,269.34 366.58,267.17 378.20,266.56 389.82,257.45 401.44,254.92 413.06,257.45 424.68,251.66 436.30,262.33 447.92,255.10 459.54,253.83 471.16,270.17 482.78,258.10" fill="none" stroke="#6c98d4" stroke-width="0.9" opacity="0.8"/>
<g opacity="0.92">
<rect x="329.42" y="282.26" width="4.6" height="4.6" fill="#6f9ad6"/>
<rect x="341.04" y="286.78" width="4.6" height="4.6" fill="#6f9ad6"/>
<rect x="352.66" y="267.04" width="4.6" height="4.6" fill="#6f9ad6"/>
<rect x="364.28" y="264.87" width="4.6" height="4.6" fill="#6f9ad6"/>
<rect x="375.90" y="264.26" width="4.6" height="4.6" fill="#6f9ad6"/>
<rect x="387.52" y="255.15" width="4.6" height="4.6" fill="#6f9ad6"/>
<rect x="399.14" y="252.62" width="4.6" height="4.6" fill="#6f9ad6"/>
<rect x="410.76" y="255.15" width="4.6" height="4.6" fill="#6f9ad6"/>
<rect x="422.38" y="249.36" width="4.6" height="4.6" fill="#6f9ad6"/>
<rect x="434.00" y="260.03" width="4.6" height="4.6" fill="#6f9ad6"/>
<rect x="445.62" y="252.80" width="4.6" height="4.6" fill="#6f9ad6"/>
<rect x="457.24" y="251.53" width="4.6" height="4.6" fill="#6f9ad6"/>
<rect x="468.86" y="267.87" width="4.6" height="4.6" fill="#6f9ad6"/>
<rect x="480.48" y="255.80" width="4.6" height="4.6" fill="#6f9ad6"/>
</g>
<polyline points="331.72,286.73 343.34,290.70 354.96,285.21 366.58,279.68 378.20,266.30 389.82,248.41 401.44,238.47 413.06,243.17 424.68,245.70 436.30,267.39 447.92,259.51 459.54,268.58 471.16,265.94 482.78,261.13" fill="none" stroke="#9fd69f" stroke-width="0.9" opacity="0.8"/>
<g opacity="0.92">
<circle cx="331.72" cy="286.73" r="2.4" fill="#93d193"/>
<circle cx="343.34" cy="290.70" r="2.4" fill="#93d193"/>
<circle cx="354.96" cy="285.21" r="2.4" fill="#93d193"/>
<circle cx="366.58" cy="279.68" r="2.4" fill="#93d193"/>
<circle cx="378.20" cy="266.30" r="2.4" fill="#93d193"/>
<circle cx="389.82" cy="248.41" r="2.4" fill="#93d193"/>
<circle cx="401.44" cy="238.47" r="2.4" fill="#93d193"/>
<circle cx="413.06" cy="243.17" r="2.4" fill="#93d193"/>
<circle cx="424.68" cy="245.70" r="2.4" fill="#93d193"/>
<circle cx="436.30" cy="267.39" r="2.4" fill="#93d193"/>
<circle cx="447.92" cy="259.51" r="2.4" fill="#93d193"/>
<circle cx="459.54" cy="268.58" r="2.4" fill="#93d193"/>
<circle cx="471.16" cy="265.94" r="2.4" fill="#93d193"/>
<circle cx="482.78" cy="261.13" r="2.4" fill="#93d193"/>
</g>
<text x="402.00" y="316.60" font-size="9.6" font-weight="bold" text-anchor="middle" fill="#111" stroke="#111" stroke-width="0.25" >Time (dpi)</text>
<text transform="translate(298.7,272.1) rotate(-90)" font-size="9.6" font-weight="bold" text-anchor="middle" fill="#111" stroke="#111" stroke-width="0.25">Initial Weight Loss (%)</text>
<line x1="507.90" y1="224.60" x2="519.70" y2="224.60" stroke="#e39a9a" stroke-width="0.9" opacity="0.7"/>
<g opacity="0.88">
<polygon points="513.60,222.15 511.15,226.44 516.05,226.44" fill="#e3a5a7"/>
</g>
<text x="525.50" y="227.30" font-size="7.7" font-weight="normal" text-anchor="start" fill="#222" stroke="#222" stroke-width="0.18" >NC</text>
<line x1="507.90" y1="237.90" x2="519.70" y2="237.90" stroke="#9fd69f" stroke-width="0.9" opacity="0.7"/>
<g opacity="0.88">
<circle cx="513.60" cy="237.90" r="2.4" fill="#93d193"/>
</g>
<text x="525.50" y="240.60" font-size="7.7" font-weight="normal" text-anchor="start" fill="#222" stroke="#222" stroke-width="0.18" >MC</text>
<line x1="507.90" y1="251.20" x2="519.70" y2="251.20" stroke="#6c98d4" stroke-width="0.9" opacity="0.7"/>
<g opacity="0.88">
<rect x="511.30" y="248.90" width="4.6" height="4.6" fill="#6f9ad6"/>
</g>
<text x="525.50" y="253.90" font-size="7.7" font-weight="normal" text-anchor="start" fill="#222" stroke="#222" stroke-width="0.18" >Model</text>
</svg>
</body></html>
